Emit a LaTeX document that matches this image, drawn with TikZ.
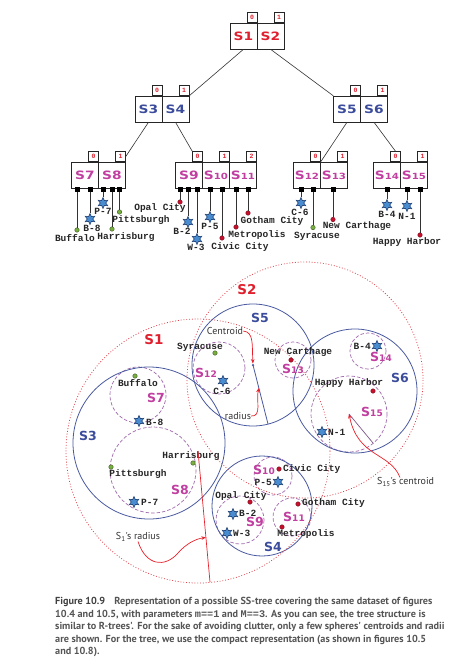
\documentclass[tikz,border=0pt]{standalone}
\usepackage{fontspec}
\setmainfont{PT Sans}
\newfontfamily\treefnt{DejaVu Sans}[FakeStretch=1.2]
\newfontfamily\circfnt{DejaVu Sans}
\newfontfamily\monofnt{Liberation Mono}
\newfontfamily\annfnt{PT Sans}
\usetikzlibrary{shapes.geometric,arrows.meta,calc}
\definecolor{sred}{HTML}{E0202E}
\definecolor{sblue}{HTML}{3B4C9C}
\definecolor{smag}{HTML}{C03FA0}
\definecolor{cred}{HTML}{E0404A}
\definecolor{cpur}{HTML}{A06AAE}
\definecolor{cblue}{HTML}{4A5AA0}
\definecolor{starfill}{HTML}{4A8CD0}
\definecolor{stardraw}{HTML}{1E3D70}
\definecolor{dotred}{HTML}{C8102E}
\definecolor{dotgreen}{HTML}{78B040}
\definecolor{capgray}{HTML}{555555}
\definecolor{arrred}{HTML}{E8202A}
\newcommand{\sdig}[1]{{\fontsize{8.5}{9}\selectfont #1}}
\newcommand{\cdig}[1]{{\fontsize{9}{9}\selectfont #1}}
\tikzset{
  cell/.style={draw=black!85, line width=0.5pt, minimum width=27pt, minimum height=26pt, inner sep=0pt, font=\treefnt\bfseries\fontsize{11.5}{12}\selectfont},
  idx/.style={draw=black!85, line width=0.5pt, minimum width=10pt, minimum height=10pt, inner sep=0pt, anchor=south east, font=\monofnt\bfseries\fontsize{6.5}{7}\selectfont, text=sred},
  ptr/.style={fill=black, minimum size=5pt, inner sep=0pt},
  link/.style={draw=black!80, line width=0.6pt},
  starpt/.style={star, star points=6, star point ratio=2, minimum size=11pt, inner sep=0pt, fill=starfill, draw=stardraw, line width=0.55pt},
  rdot/.style={circle, minimum size=4.5pt, inner sep=0pt, fill=dotred, draw=dotred!60!black, line width=0.4pt},
  gdot/.style={circle, minimum size=4.5pt, inner sep=0pt, fill=dotgreen, draw=dotgreen!50!black, line width=0.4pt},
  city/.style={font=\monofnt\bfseries\fontsize{9.5}{10}\selectfont, inner sep=0pt, text=black!85},
  redc/.style={draw=cred, line width=0.75pt, dash pattern=on 0.9pt off 1.9pt},
  bluec/.style={draw=cblue, line width=0.8pt},
  purc/.style={draw=cpur, line width=0.7pt, dash pattern=on 3.5pt off 2pt},
  clab/.style={font=\circfnt\bfseries\fontsize{12.5}{13}\selectfont, inner sep=0pt},
  clabr/.style={font=\circfnt\bfseries\fontsize{13.5}{14}\selectfont, inner sep=0pt, text=sred},
  annot/.style={font=\annfnt\fontsize{10}{11}\selectfont, text=black!80, inner sep=0pt},
  redarrow/.style={draw=arrred, line width=0.7pt, -{Stealth[length=4.5pt,width=3.5pt]}},
  capline/.style={font=\annfnt\bfseries\fontsize{10.2}{11}\selectfont, text=capgray, anchor=west, inner sep=0pt},
}
\begin{document}
\begin{tikzpicture}[x=1pt,y=-1pt]
\useasboundingbox (0,0) rectangle (474,667);
\fill[white] (0,0) rectangle (474,667);

% ---------------- tree ----------------
\node[cell,text=sred] (t1) at (243.5,36) {S1};
\node[cell,text=sred] (t2) at (270.5,36) {S2};
\node[idx] (i1) at (t1.north east) {0};
\node[idx] (i2) at (t2.north east) {1};

\node[cell,text=sblue] (t3) at (148.5,109) {S3};
\node[cell,text=sblue] (t4) at (175.5,109) {S4};
\node[cell,text=sblue] (t5) at (347,109) {S5};
\node[cell,text=sblue] (t6) at (374,109) {S6};
\node[idx] (i3) at (t3.north east) {0};
\node[idx] (i4) at (t4.north east) {1};
\node[idx] (i5) at (t5.north east) {0};
\node[idx] (i6) at (t6.north east) {1};

\node[cell,text=smag] (t7) at (85,175) {S7};
\node[cell,text=smag] (t8) at (112,175) {S8};
\node[cell,text=smag] (t9) at (189,175) {S9};
\node[cell,text=smag] (t10) at (216,175) {S\sdig{10}};
\node[cell,text=smag] (t11) at (243,175) {S\sdig{11}};
\node[cell,text=smag] (t12) at (307,175) {S\sdig{12}};
\node[cell,text=smag] (t13) at (334,175) {S\sdig{13}};
\node[cell,text=smag] (t14) at (387,175) {S\sdig{14}};
\node[cell,text=smag] (t15) at (414,175) {S\sdig{15}};
\node[idx] (i7) at (t7.north east) {0};
\node[idx] (i8) at (t8.north east) {1};
\node[idx] (i9) at (t9.north east) {0};
\node[idx] (i10) at (t10.north east) {1};
\node[idx] (i11) at (t11.north east) {2};
\node[idx] (i12) at (t12.north east) {0};
\node[idx] (i13) at (t13.north east) {1};
\node[idx] (i14) at (t14.north east) {0};
\node[idx] (i15) at (t15.north east) {1};

\draw[link] (t1.south) -- (t4.north east);
\draw[link] (t2.south) -- (t5.north west);
\draw[link] (t3.south) -- (i8.east);
\draw[link] (t4.south) -- (i9.north west);
\draw[link] (t5.south) -- (t12.north east);
\draw[link] (t6.south) -- (i14.north);

% leaf pointers
\node[ptr] (q7a) at (77,189) {};
\node[ptr] (q7b) at (90,189) {};
\node[ptr] (q8a) at (103,189) {};
\node[ptr] (q8b) at (112,189) {};
\node[ptr] (q8c) at (119.5,189) {};
\node[ptr] (q9a) at (180,189) {};
\node[ptr] (q9b) at (188,189) {};
\node[ptr] (q9c) at (197,189) {};
\node[ptr] (q10a) at (210,189) {};
\node[ptr] (q10b) at (222,189) {};
\node[ptr] (q11a) at (236,189) {};
\node[ptr] (q11b) at (248,189) {};
\node[ptr] (q12a) at (301,189) {};
\node[ptr] (q12b) at (313,189) {};
\node[ptr] (q13a) at (333,189) {};
\node[ptr] (q14a) at (387,189) {};
\node[ptr] (q15a) at (407,189) {};
\node[ptr] (q15b) at (420,189) {};

\node[gdot] (tBuf) at (77,230) {};
\node[starpt] (tB8) at (90,219) {};
\node[starpt] (tP7) at (103,203) {};
\node[gdot] (tHar) at (112,229) {};
\node[gdot] (tPit) at (119.5,212) {};
\node[rdot] (tOpa) at (180,202) {};
\node[starpt] (tB2) at (188,222) {};
\node[starpt] (tW3) at (197,239) {};
\node[starpt] (tP5) at (210,217) {};
\node[rdot] (tCiv) at (222,238) {};
\node[rdot] (tMet) at (236,227) {};
\node[rdot] (tGot) at (248,213) {};
\node[starpt] (tC6) at (301,203) {};
\node[gdot] (tSyr) at (313,227.5) {};
\node[rdot] (tNew) at (333,219.5) {};
\node[starpt] (tB4) at (387,205) {};
\node[starpt] (tN1) at (407,206) {};
\node[rdot] (tHap) at (420,235) {};

\draw[link] (q7a) -- (tBuf);
\draw[link] (q7b) -- (tB8);
\draw[link] (q8a) -- (tP7);
\draw[link] (q8b) -- (tHar);
\draw[link] (q8c) -- (tPit);
\draw[link] (q9a) -- (tOpa);
\draw[link] (q9b) -- (tB2);
\draw[link] (q9c) -- (tW3);
\draw[link] (q10a) -- (tP5);
\draw[link] (q10b) -- (tCiv);
\draw[link] (q11a) -- (tMet);
\draw[link] (q11b) -- (tGot);
\draw[link] (q12a) -- (tC6);
\draw[link] (q12b) -- (tSyr);
\draw[link] (q13a) -- (tNew);
\draw[link] (q14a) -- (tB4);
\draw[link] (q15a) -- (tN1);
\draw[link] (q15b) -- (tHap);

\node[city] (nBuf) at (75,238) {Buffalo};
\node[city] (nB8) at (92,228) {B-8};
\node[city] (nP7) at (103,211.5) {P-7};
\node[city] (nHar) at (126,237) {Harrisburg};
\node[city] (nPit) at (141,220) {Pittsburgh};
\node[city] (nOpa) at (160,208) {Opal City};
\node[city] (nB2) at (182,231) {B-2};
\node[city] (nW3) at (196,247.5) {W-3};
\node[city] (nP5) at (210,226) {P-5};
\node[city] (nCiv) at (240,247) {Civic City};
\node[city] (nMet) at (257,235) {Metropolis};
\node[city] (nGot) at (272,221) {Gotham City};
\node[city] (nC6) at (300,212) {C-6};
\node[city] (nSyr) at (317,236.5) {Syracuse};
\node[city] (nNew) at (357,226) {New Carthage};
\node[city] (nB4) at (387,214) {B-4};
\node[city] (nN1) at (407,216) {N-1};
\node[city] (nHap) at (407,242) {Happy Harbor};

% ---------------- spheres ----------------
\coordinate (c1) at (198,451);
\coordinate (c2) at (305,380);
\coordinate (c3) at (149,443);
\coordinate (c4) at (262,506);
\coordinate (c5) at (253,365);
\coordinate (c6) at (355,391);
\coordinate (c7) at (138,395);
\coordinate (c8) at (153,470);
\coordinate (c9) at (240,520);
\coordinate (c10) at (273,476);
\coordinate (c11) at (292,517);
\coordinate (c12) at (219,368);
\coordinate (c13) at (293,360);
\coordinate (c14) at (368,351);
\coordinate (c15) at (349,414);

\draw[purc] (c7) circle[radius=28];
\draw[purc] (c8) circle[radius=43];
\draw[purc] (c9) circle[radius=24];
\draw[purc] (c10) circle[radius=19];
\draw[purc] (c11) circle[radius=19];
\draw[purc] (c12) circle[radius=26];
\draw[purc] (c13) circle[radius=18];
\draw[purc] (c14) circle[radius=18];
\draw[purc] (c15) circle[radius=38];

\draw[bluec] (c3) circle[radius=76];
\draw[bluec] (c4) circle[radius=50];
\draw[bluec] (c5) circle[radius=61];
\draw[bluec] (c6) circle[radius=62];

\draw[redc] (c1) circle[radius=132];
\draw[redc] (c2) circle[radius=118];

% sphere labels
\node[clabr] (cl1) at (154,340) {S1};
\node[clabr] (cl2) at (247,290) {S2};
\node[clab,text=sblue] (cl3) at (88,436) {S3};
\node[clab,text=sblue] (cl4) at (273,547) {S4};
\node[clab,text=sblue] (cl5) at (260,318) {S5};
\node[clab,text=sblue] (cl6) at (400,378) {S6};
\node[clab,text=smag] (cl7) at (156,398) {S7};
\node[clab,text=smag] (cl8) at (180,490) {S8};
\node[clab,text=smag] (cl9) at (255,522) {S9};
\node[clab,text=smag] (cl10) at (264,470) {S\cdig{10}};
\node[clab,text=smag] (cl11) at (294,517) {S\cdig{11}};
\node[clab,text=smag] (cl12) at (206,373) {S\cdig{12}};
\node[clab,text=smag] (cl13) at (293,369) {S\cdig{13}};
\node[clab,text=smag] (cl14) at (381,357) {S\cdig{14}};
\node[clab,text=smag] (cl15) at (372,412) {S\cdig{15}};

% points in the plane
\node[gdot] (pBuf) at (135,376) {};
\node[city] (lBuf) at (138,383.5) {Buffalo};
\node[starpt] (pB8) at (139,421) {};
\node[city,anchor=west] (lB8) at (146,422) {B-8};
\node[gdot] (pPit) at (111,467) {};
\node[city] (lPit) at (138,474) {Pittsburgh};
\node[gdot] (pHar) at (193,463) {};
\node[city] (lHar) at (191,456) {Harrisburg};
\node[starpt] (pP7) at (134,502) {};
\node[city,anchor=west] (lP7) at (141,502) {P-7};
\node[gdot] (pSyr) at (215,353) {};
\node[city] (lSyr) at (200,347) {Syracuse};
\node[starpt] (pC6) at (223,381) {};
\node[city] (lC6) at (222,391) {C-6};
\node[rdot] (pNew) at (291,360) {};
\node[city] (lNew) at (298,352) {New Carthage};
\node[starpt] (pB4) at (377,346) {};
\node[city,anchor=east] (lB4) at (371,346) {B-4};
\node[rdot] (pHap) at (373,391) {};
\node[city] (lHap) at (349,383) {Happy Harbor};
\node[starpt] (pN1) at (322,432) {};
\node[city,anchor=west] (lN1) at (328,432) {N-1};
\node[rdot] (pCiv) at (279,469) {};
\node[city,anchor=west] (lCiv) at (283,469) {Civic City};
\node[starpt] (pP5) at (278,482) {};
\node[city,anchor=east] (lP5) at (272,482) {P-5};
\node[rdot] (pOpa) at (250,502) {};
\node[city] (lOpa) at (241,496) {Opal City};
\node[starpt] (pB2) at (233,514) {};
\node[city,anchor=west] (lB2) at (239,513) {B-2};
\node[starpt] (pW3) at (227,533) {};
\node[city,anchor=west] (lW3) at (233,533) {W-3};
\node[rdot] (pGot) at (298,504) {};
\node[city,anchor=west] (lGot) at (302,503) {Gotham City};
\node[rdot] (pMet) at (282,527) {};
\node[city] (lMet) at (306,534) {Metropolis};

% centroid / radius annotations
\node[circle, fill=cblue, minimum size=2.5pt, inner sep=0pt] (c5dot) at (c5) {};
\coordinate (r5end) at (268,424);
\draw[cblue, line width=0.8pt] (c5dot.center) -- (r5end);
\coordinate (r5mid) at ($(c5)!0.39!(r5end)$);
\node[annot] (lCen) at (225,331) {Centroid};
\draw[redarrow] (lCen.east) .. controls (254,332) and (252,345) .. (c5dot);
\node[annot] (lRad) at (238,416) {radius};
\draw[redarrow] (lRad.east) .. controls (262,417) and (256,400) .. (r5mid);

\coordinate (r1end) at (210,582);
\draw[arrred, line width=0.7pt] (c1) -- (r1end);
\coordinate (r1mid) at ($(c1)!0.66!(r1end)$);
\node[annot] (lR1) at (138,537) {S\textsubscript{1}'s radius};
\draw[redarrow] (lR1.south) .. controls (146,566) and (165,568) .. (178,553) .. controls (186,544) and (195,539) .. (r1mid);

\coordinate (r15end) at (373,443);
\draw[cpur!80!black, line width=0.7pt] (c15) -- (r15end);
\node[annot,anchor=west] (lC15) at (377,482) {S\textsubscript{15}'s centroid};
\draw[redarrow] ($(lC15.north west)+(23,0)$) .. controls (390,452) and (358,458) .. (c15);

% ---------------- caption ----------------
\node[capline] (cap1) at (55,602) {{\color{black!75}Figure 10.9}\hspace{0.9em}Representation of a possible SS-tree covering the same dataset of figures};
\node[capline] (cap2) at (55,614.5) {10.4 and 10.5, with parameters {\monofnt m==1} and {\monofnt M==3}. As you can see, the tree structure is};
\node[capline] (cap3) at (55,627) {similar to R-trees'. For the sake of avoiding clutter, only a few spheres' centroids and radii};
\node[capline] (cap4) at (55,639.5) {are shown. For the tree, we use the compact representation (as shown in figures 10.5};
\node[capline] (cap5) at (55,652) {and 10.8).};
\end{tikzpicture}
\end{document}
